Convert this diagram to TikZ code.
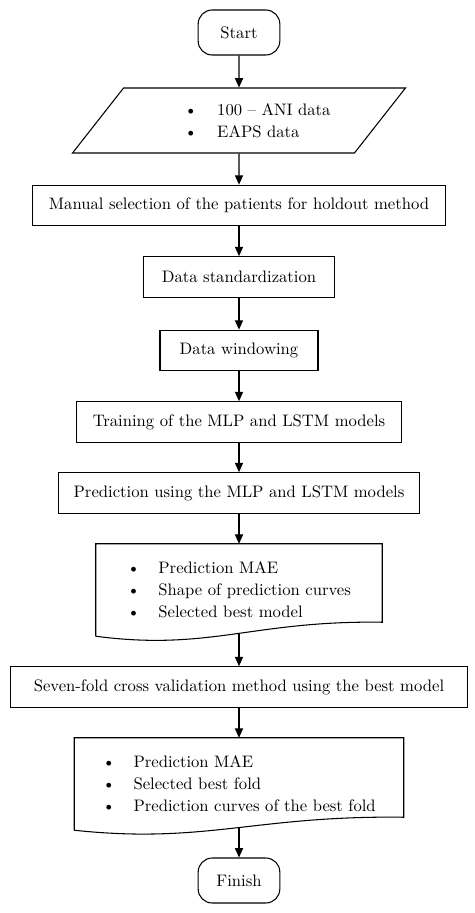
\documentclass[tikz,border=0pt]{standalone}
\usepackage{fontspec}
\setmainfont{lmroman10-regular.otf}
\usepackage{tikz}
\usetikzlibrary{shapes.geometric, arrows.meta, positioning}

\begin{document}
\begin{tikzpicture}[
    % Styles
    every node/.style={font=\fontsize{14.2}{18.8}\selectfont},
    termbox/.style={rectangle, draw=black, line width=0.9pt, rounded corners=12pt, minimum width=2.45cm, minimum height=1.35cm},
    iobox/.style={trapezium, trapezium left angle=45, trapezium right angle=135, trapezium stretches=true, draw=black, line width=0.9pt, minimum width=10cm, minimum height=1.95cm, align=left},
    procbox/.style={rectangle, draw=black, line width=0.9pt, minimum height=1.22cm, align=center},
    docbox/.style={rectangle, minimum height=2.76cm, align=left},
    docline/.style={line width=0.9pt},
    arrow/.style={-{Triangle[length=8pt,width=7pt]}, line width=0.9pt}
]
\useasboundingbox (0,0) rectangle (14.22,-27.39);

% Start and input data
\node[termbox] (start) at (7.17,-0.975) {Start};
\node[iobox] (data) at (7.17,-3.615) {
    \hspace*{1.1cm}\textbullet\hspace{0.6cm}100 -- ANI data\\
    \hspace*{1.1cm}\textbullet\hspace{0.6cm}EAPS data
};

% Preprocessing
\node[procbox, minimum width=12.39cm] (select) at (7.17,-6.165) {Manual selection of the patients for holdout method};
\node[procbox, minimum width=5.73cm] (standard) at (7.17,-8.31) {Data standardization};
\node[procbox, minimum width=4.74cm] (window) at (7.17,-10.515) {Data windowing};

% Models
\node[procbox, minimum width=9.75cm] (train) at (7.17,-12.66) {Training of the MLP and LSTM models};
\node[procbox, minimum width=10.83cm] (predict) at (7.17,-14.79) {Prediction using the MLP and LSTM models};

% First results
\node[docbox, minimum width=8.58cm] (result1) at (7.17,-17.7) {
    \textbullet\hspace{0.55cm}Prediction MAE\\
    \textbullet\hspace{0.55cm}Shape of prediction curves\\
    \textbullet\hspace{0.55cm}Selected best model
};
\draw[docline] (result1.south west) -- (result1.north west) -- (result1.north east) -- ([yshift=0.42cm]result1.south east)
    .. controls ([shift={(4.72cm,0.48cm)}]result1.south west) and ([shift={(3.43cm,-0.45cm)}]result1.south west) .. (result1.south west);

% Cross validation
\node[procbox, minimum width=13.71cm] (crossval) at (7.17,-20.61) {Seven-fold cross validation method using the best model};

% Final results
\node[docbox, minimum width=9.87cm] (result2) at (7.17,-23.52) {
    \textbullet\hspace{0.55cm}Prediction MAE\\
    \textbullet\hspace{0.55cm}Selected best fold\\
    \textbullet\hspace{0.55cm}Prediction curves of the best fold
};
\draw[docline] (result2.south west) -- (result2.north west) -- (result2.north east) -- ([yshift=0.39cm]result2.south east)
    .. controls ([shift={(5.43cm,0.45cm)}]result2.south west) and ([shift={(3.95cm,-0.42cm)}]result2.south west) .. (result2.south west);

\node[termbox] (finish) at (7.17,-26.415) {Finish};

% Arrows
\draw[arrow] (start.south) -- (data.north);
\draw[arrow] (data.south) -- (select.north);
\draw[arrow] (select.south) -- (standard.north);
\draw[arrow] (standard.south) -- (window.north);
\draw[arrow] (window.south) -- (train.north);
\draw[arrow] (train.south) -- (predict.north);
\draw[arrow] (predict.south) -- (result1.north);
\draw[arrow] ([yshift=0.06cm]result1.south) -- (crossval.north);
\draw[arrow] (crossval.south) -- (result2.north);
\draw[arrow] ([yshift=0.06cm]result2.south) -- (finish.north);

\end{tikzpicture}
\end{document}
